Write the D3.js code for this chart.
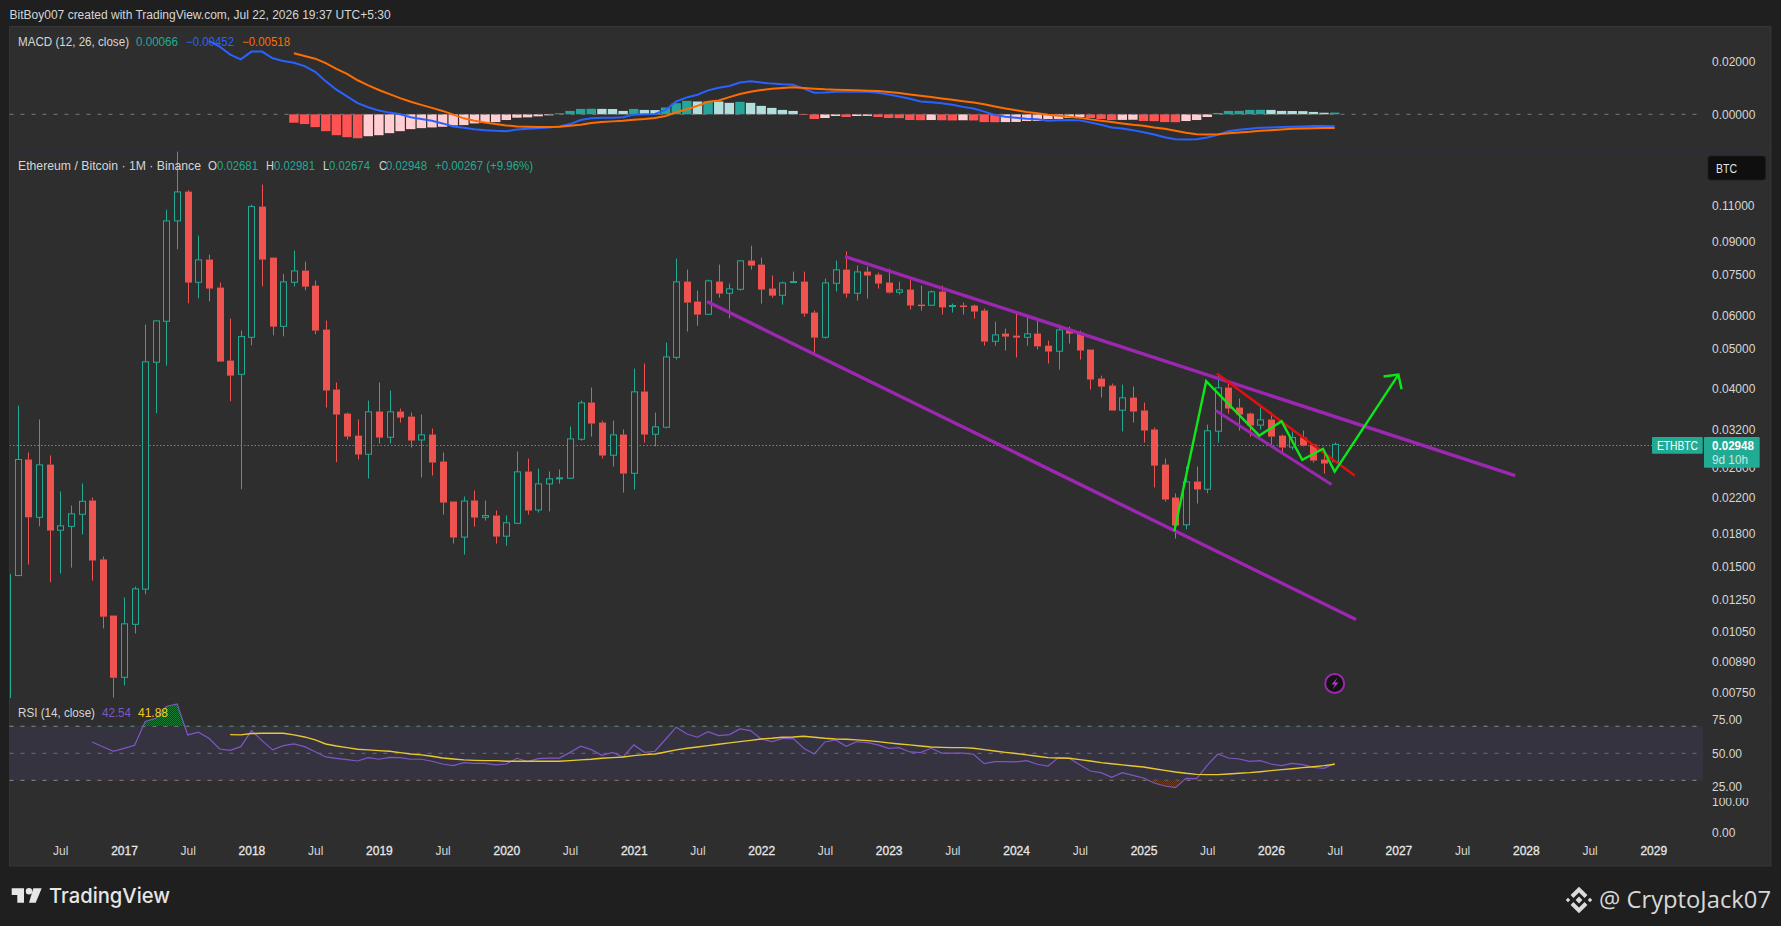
<html>
<head>
<style>
body
{
  margin:0;
  background:#1f1f1f;
}
svg
{
  display:block;
  font-family:"Liberation Sans", sans-serif;
}
</style>
<script src="https://cdnjs.cloudflare.com/ajax/libs/d3/7.8.5/d3.min.js"></script>
<script>
// months are counted from Jan 2017, the first bar sits 11 months before that
var firstMonth = -11;
var opens = [.00730,.01430,.02712,.01972,.02637,.01836,.01876,.02005,.02163,.01563,.01147,.00816,.01093,.01327,.04637,.05813,.10110,.11882,.07207,.08168,.06999,.04680,.04339,.05322,.10940,.08257,.05653,.07207,.07687,.07075,.05552,.03989,.03494,.03094,.02792,.03533,.03066,.03533,.03436,.03020,.03112,.02682,.02151,.01768,.02163,.01972,.01991,.01777,.01908,.02538,.02053,.02371,.02438,.02446,.03033,.03713,.03325,.02777,.03112,.02514,.03945,.03118,.03240,.04765,.07235,.06479,.06040,.07235,.06783,.06934,.08123,.07944,.06961,.06707,.07207,.07235,.06098,.05322,.07167,.07729,.06783,.07645,.07518,.07195,.06821,.06923,.06372,.06350,.06847,.06318,.06340,.06340,.06166,.05206,.05431,.05370,.05322,.05431,.05082,.04927,.05552,.05461,.04973,.04238,.04077,.03559,.03816,.03553,.03200,.02637,.02199,.01892,.02402,.02302,.03170,.04032,.03612,.03494,.03278,.03381,.03094,.02904,.03061,.02945,.02712,.02681];
var highs = [.01438,.03651,.02819,.03381,.02772,.02273,.02104,.02375,.02199,.01588,.01147,.01267,.01346,.05707,.05835,.10760,.14814,.11994,.09320,.08394,.07195,.05899,.05522,.11060,.12347,.08257,.07549,.08583,.08078,.07275,.05835,.04146,.03514,.03381,.03754,.04146,.03967,.03592,.03514,.03475,.03217,.02819,.02151,.02211,.02286,.02163,.02047,.01991,.02834,.02727,.02580,.02538,.02566,.03252,.03754,.04032,.03362,.03362,.03200,.04478,.04603,.03514,.05168,.08212,.07729,.06885,.07315,.07944,.07155,.08123,.08819,.08257,.07479,.07235,.07645,.07645,.06166,.07355,.08123,.08536,.07902,.07858,.07603,.07772,.07235,.07315,.07075,.06885,.07075,.06408,.06444,.06372,.06234,.05803,.05583,.06098,.06030,.05867,.05226,.05705,.05643,.05522,.04973,.04307,.04123,.04100,.04054,.03713,.03235,.02727,.02248,.02608,.02608,.03288,.04307,.04152,.03796,.03514,.03671,.03514,.03112,.03165,.03182,.02945,.02834,.02981];
var lows = [.00730,.01430,.01520,.01876,.01378,.01446,.01494,.01793,.01391,.01069,.00730,.00780,.01039,.01290,.03500,.04551,.08644,.06418,.06598,.06490,.04654,.03740,.02302,.05090,.07047,.05379,.05349,.07047,.06896,.05410,.03612,.02672,.03028,.02712,.02442,.02961,.02961,.03325,.02897,.02455,.02482,.02002,.01706,.01606,.01873,.01937,.01706,.01687,.01908,.02002,.02025,.02036,.02375,.02446,.03011,.03077,.02727,.02608,.02261,.02299,.02978,.02917,.03222,.04706,.05492,.05672,.06040,.06623,.05909,.06885,.07729,.06408,.06623,.06372,.07207,.05963,.04864,.05284,.06847,.06623,.06515,.06587,.06961,.06771,.06733,.06200,.06166,.06350,.06030,.06098,.06030,.05899,.05082,.05082,.04946,.04762,.05082,.04973,.04603,.04453,.05140,.04706,.03989,.03816,.03553,.03165,.03325,.02978,.02324,.02151,.01754,.01846,.02127,.02252,.02978,.03494,.03182,.03077,.03200,.02930,.02803,.02861,.02914,.02667,.02510,.02674];
var closes = [.01438,.02712,.01972,.02633,.01833,.01881,.02010,.02154,.01554,.01140,.00814,.01096,.01329,.04647,.05825,.10110,.11863,.07195,.08154,.06961,.04654,.04307,.05341,.10940,.08168,.05643,.07223,.07674,.07035,.05522,.03967,.03475,.03077,.02787,.03528,.03061,.03528,.03417,.03011,.03107,.02667,.02139,.01764,.02157,.01969,.01991,.01773,.01913,.02534,.02047,.02371,.02438,.02451,.03039,.03707,.03307,.02772,.03107,.02510,.03939,.03112,.03247,.04775,.07223,.06444,.06030,.07263,.06771,.06949,.08110,.07902,.06923,.06695,.07183,.07235,.06064,.05312,.07183,.07717,.06771,.07632,.07479,.07155,.06809,.06912,.06340,.06340,.06836,.06274,.06340,.06307,.06132,.05197,.05392,.05341,.05312,.05422,.05060,.04919,.05543,.05431,.04946,.04215,.04054,.03553,.03810,.03533,.03182,.02622,.02175,.01884,.02398,.02299,.03177,.04027,.03592,.03475,.03271,.03375,.03077,.02897,.03061,.02930,.02697,.02652,.02948];

var macdStart = 8;
var macdLine = [.02784,.02567,.02261,.02082,.02375,.02375,.02120,.02018,.01954,.01826,.01609,.01252,.00932,.00677,.00421,.00268,.00140,.00064,0,-.00115,-.00179,-.00243,-.00345,-.00460,-.00511,-.00562,-.00600,-.00626,-.00639,-.00575,-.00549,-.00524,-.00498,-.00460,-.00370,-.00217,-.00153,-.00128,-.00128,-.00115,-.00013,0,.00013,.00166,.00485,.00639,.00741,.00907,.01009,.01073,.01201,.01252,.01201,.01162,.01137,.01124,.00971,.00817,.00830,.00856,.00856,.00856,.00856,.00817,.00754,.00677,.00587,.00485,.00460,.00421,.00358,.00281,.00217,.00102,-.00026,-.00089,-.00128,-.00166,-.00192,-.00243,-.00230,-.00217,-.00230,-.00307,-.00396,-.00498,-.00536,-.00600,-.00677,-.00766,-.00868,-.00945,-.00958,-.00945,-.00881,-.00779,-.00639,-.00587,-.00549,-.00511,-.00498,-.00485,-.00473,-.00460,-.00447,-.00445,-.00452];
var signalStart = 16;
var signalLine = [.02312,.02209,.02107,.01941,.01724,.01533,.01290,.01098,.00920,.00766,.00613,.00473,.00358,.00243,.00128,-.00013,-.00153,-.00243,-.00307,-.00370,-.00421,-.00460,-.00473,-.00485,-.00485,-.00473,-.00434,-.00396,-.00332,-.00294,-.00268,-.00243,-.00204,-.00179,-.00140,-.00064,.00077,.00192,.00319,.00473,.00524,.00651,.00766,.00856,.00919,.00971,.00996,.01022,.00996,.00971,.00945,.00932,.00919,.00907,.00894,.00881,.00843,.00805,.00753,.00702,.00651,.00600,.00549,.00498,.00447,.00383,.00294,.00217,.00153,.00089,.00038,-.00013,-.00051,-.00089,-.00128,-.00192,-.00243,-.00294,-.00345,-.00396,-.00434,-.00498,-.00549,-.00626,-.00702,-.00753,-.00766,-.00753,-.00715,-.00690,-.00664,-.00626,-.00600,-.00575,-.00549,-.00536,-.00524,-.00520,-.00518];
var histStart = 16;
var histValues = [-.00319,-.00370,-.00485,-.00639,-.00792,-.00868,-.00907,-.00830,-.00792,-.00715,-.00639,-.00562,-.00524,-.00498,-.00473,-.00421,-.00409,-.00345,-.00319,-.00294,-.00217,-.00128,-.00115,-.00077,-.00038,.00038,.00128,.00204,.00210,.00205,.00200,.00128,.00204,.00166,.00160,.00255,.00421,.00511,.00485,.00498,.00485,.00434,.00473,.00434,.00319,.00243,.00166,.00128,-.00026,-.00179,-.00140,-.00064,-.00102,-.00064,-.00060,-.00102,-.00140,-.00145,-.00217,-.00222,-.00217,-.00225,-.00232,-.00225,-.00232,-.00295,-.00300,-.00295,-.00290,-.00255,-.00250,-.00179,-.00175,-.00140,-.00102,-.00140,-.00179,-.00217,-.00212,-.00207,-.00255,-.00260,-.00295,-.00300,-.00255,-.00217,-.00102,.00051,.00128,.00130,.00166,.00170,.00166,.00128,.00125,.00120,.00090,.00060,.00066];

var rsiStart = -3;
var rsiValues = [58.4,54.9,51.5,53.7,55.9,73.5,75.9,84.6,86.5,63.6,65.6,61.1,53.2,52.2,54.9,66.8,59.4,52.5,55.7,56.9,54.9,51.2,47.3,46.3,45.3,44.3,46.8,45.6,47.0,46.8,45.6,45.6,44.1,42.1,40.9,43.1,42.6,42.6,41.4,42.1,46.3,43.8,46.0,46.5,46.5,50.7,55.2,52.7,48.5,50.7,47.3,56.2,50.7,51.5,60.4,69.3,64.3,61.9,66.0,63.1,63.8,68.0,66.8,60.6,58.6,60.9,61.1,53.7,49.5,58.4,59.9,55.2,58.6,57.9,56.2,53.7,54.2,51.0,50.5,53.7,50.2,50.2,50.2,49.3,42.3,43.8,43.8,43.6,44.6,41.9,40.6,46.8,46.3,41.6,36.9,35.7,32.2,35.7,33.7,31.7,28.0,25.8,24.6,31.5,31.2,41.1,49.5,46.5,45.8,44.1,44.6,42.1,40.9,42.6,41.6,39.6,38.9,42.54];
var rsiMaStart = 10;
var rsiMaValues = [63.8,63.6,64.6,64.8,64.8,64.8,63.6,62.1,59.9,56.9,55.4,54.2,53.0,52.5,52.0,51.5,50.5,49.5,48.8,47.8,46.5,45.8,45.1,44.8,44.6,44.6,44.1,44.1,44.1,44.1,44.1,44.1,44.6,45.1,45.6,46.3,46.8,47.3,48.3,49.0,49.5,51.0,52.5,53.7,54.7,55.7,56.7,57.7,58.6,59.6,60.6,61.1,61.9,62.1,62.6,61.9,61.1,60.6,60.4,59.9,59.4,58.6,57.7,56.9,56.2,55.4,54.7,54.4,54.2,54.2,53.7,52.7,51.7,50.7,49.8,48.8,47.8,46.8,46.5,46.3,45.3,44.3,43.1,42.3,41.4,40.6,39.9,38.6,37.4,36.2,35.2,34.4,34.2,34.2,34.7,35.2,35.7,36.4,37.2,37.9,38.6,39.4,40.1,40.9,41.88];

var priceTicks = [.11,.09,.075,.06,.05,.04,.032,.026,.022,.018,.015,.0125,.0105,.0089,.0075];
var macdTicks = [.02,0];
var rsiTicks = [75,50,25];
var lowerTicks = [100,0];
var yearTicks = [0,12,24,36,48,60,72,84,96,108,120,132,144];
var julyTicks = [-6,6,18,30,42,54,66,78,90,102,114,126,138];

// drawn lines as [month, price]
var upperChannel = [[67.9,.08306],[131,.02483]];
var lowerChannel = [[54.9,.06479],[116,.01122]];
var flagLower = [[102.8,.03553],[113.7,.02362]];
var flagUpper = [[102.9,.04356],[115.9,.02480]];
var pathProjection = [[98.9,.01826],[101.9,.04176],[106.9,.03094],[109,.03349],[110.95,.02707],[112.9,.02877],[114,.02538],[120,.04331]];
var arrowHead = [[118.6,.04285],[120,.04331],[120.3,.03996]];

var W = 1781, H = 926;
var paneLeft = 9.5, paneRight = 1771, paneTop = 26.5, paneBottom = 866;
var macdBottom = 150.5, mainBottom = 698, rsiBottom = 798;
var axisLeft = 1712;
var upColor = "#22ab94", downColor = "#ef5350", paneColor = "#2e2e2e", textColor = "#d6d6d6";

document.addEventListener("DOMContentLoaded", function(){
  var svg = d3.select("body").append("svg").attr("width", W).attr("height", H);

  var x = d3.scaleLinear().domain([0,120]).range([124,1398.4]);
  var yPrice = d3.scaleLog().domain([.11,.0075]).range([205.6,692.6]);
  var yMacd = d3.scaleLinear().domain([0,.02]).range([114.3,61.5]);
  var yRsi = d3.scaleLinear().domain([50,75]).range([753.3,719.5]);
  var yLower = d3.scaleLinear().domain([0,100]).range([833,802]);

  svg.append("rect").attr("width",W).attr("height",H).attr("fill","#1f1f1f");
  svg.append("rect")
  .attr("x",paneLeft).attr("y",paneTop)
  .attr("width",paneRight-paneLeft).attr("height",paneBottom-paneTop)
  .attr("fill",paneColor).attr("stroke","#363636");

  var defs = svg.append("defs");
  function clip(id, x0, y0, x1, y1)
  {
    defs.append("clipPath").attr("id",id).append("rect")
    .attr("x",x0).attr("y",y0).attr("width",x1-x0).attr("height",y1-y0);
  }
  clip("mainClip", paneLeft+.5, macdBottom, paneRight, mainBottom);
  clip("mainAxisClip", axisLeft-10, macdBottom, paneRight, mainBottom);
  clip("lowerAxisClip", axisLeft-10, rsiBottom, paneRight, paneBottom);
  clip("over70", paneLeft, macdBottom, 1703, yRsi(70));
  clip("under30", paneLeft, yRsi(30), 1703, rsiBottom);

  // dotted fill of the RSI zones
  function dots(id, color)
  {
    var p = defs.append("pattern").attr("id",id).attr("width",2).attr("height",2).attr("patternUnits","userSpaceOnUse");
    p.append("rect").attr("width",2).attr("height",2).attr("fill",paneColor);
    p.append("rect").attr("width",1).attr("height",1).attr("fill",color);
    p.append("rect").attr("x",1).attr("y",1).attr("width",1).attr("height",1).attr("fill",color);
  }
  dots("greenDots","#1b7a34");
  dots("brownDots","#6e3f20");

  // pane separators
  [macdBottom, mainBottom, rsiBottom].forEach(function(y){
    svg.append("line").attr("x1",paneLeft).attr("x2",paneRight).attr("y1",y).attr("y2",y)
    .attr("stroke","#2c3038").attr("stroke-width",1);
  });

  // MACD pane
  var macdPane = svg.append("g");
  var histColor = function(v, i){
    var prev = i > 0 ? histValues[i-1] : 0;
    if(v >= 0) return v > prev ? "#26a69a" : "#b2dfdb";
    return v < prev ? "#ff5252" : "#ffcdd2";
  };
  macdPane.selectAll("rect").data(histValues).enter().append("rect")
  .attr("x", function(d,i){ return x(histStart+i)-4.7; })
  .attr("width", 9.4)
  .attr("y", function(d){ return Math.min(yMacd(d),yMacd(0)); })
  .attr("height", function(d){ return Math.abs(yMacd(d)-yMacd(0)); })
  .attr("fill", histColor);

  macdPane.append("line").attr("x1",paneLeft).attr("x2",1699).attr("y1",yMacd(0)).attr("y2",yMacd(0))
  .attr("stroke","#787878").attr("stroke-dasharray","4 7");

  var seriesLine = function(yScale, start){
    return d3.line().x(function(d,i){ return x(start+i); }).y(function(d){ return yScale(d); });
  };
  macdPane.append("path").attr("d",seriesLine(yMacd,macdStart)(macdLine))
  .attr("fill","none").attr("stroke","#2962ff").attr("stroke-width",2);
  macdPane.append("path").attr("d",seriesLine(yMacd,signalStart)(signalLine))
  .attr("fill","none").attr("stroke","#ff6d00").attr("stroke-width",2);

  // candles
  var main = svg.append("g").attr("clip-path","url(#mainClip)");
  var bars = opens.map(function(o,i){
    return {m:firstMonth+i, o:o, h:highs[i], l:lows[i], c:closes[i], up:closes[i]>=o};
  });
  var lastY = Math.ceil(yPrice(closes[closes.length-1]))+.5;
  main.append("line").attr("x1",paneLeft).attr("x2",1652).attr("y1",lastY).attr("y2",lastY)
  .attr("stroke",downColor).attr("stroke-dasharray","1.5 2");

  bars.forEach(function(b){
    var cx = Math.round(x(b.m))+.5;
    var color = b.up ? upColor : downColor;
    var top = yPrice(Math.max(b.o,b.c)), bot = yPrice(Math.min(b.o,b.c));
    main.append("line").attr("x1",cx).attr("x2",cx).attr("y1",yPrice(b.h)).attr("y2",top).attr("stroke",color);
    main.append("line").attr("x1",cx).attr("x2",cx).attr("y1",bot).attr("y2",yPrice(b.l)).attr("stroke",color);
    if(b.up)
    {
      main.append("rect").attr("x",cx-3).attr("width",6).attr("y",top).attr("height",Math.max(bot-top,1))
      .attr("fill",paneColor).attr("stroke",color);
    }
    else
    {
      main.append("rect").attr("x",cx-3.5).attr("width",7).attr("y",top).attr("height",Math.max(bot-top,1.5))
      .attr("fill",color);
    }
  });

  // hand drawn lines
  var drawn = d3.line().x(function(d){ return x(d[0]); }).y(function(d){ return yPrice(d[1]); });
  function drawing(points, color, width)
  {
    main.append("path").attr("d",drawn(points)).attr("fill","none")
    .attr("stroke",color).attr("stroke-width",width).attr("stroke-linejoin","miter");
  }
  drawing(upperChannel,"#9c27b0",3.4);
  drawing(lowerChannel,"#9c27b0",3.4);
  drawing(flagLower,"#9c27b0",3);
  drawing(flagUpper,"#e01010",2.5);
  drawing(pathProjection,"#0ee61a",2.4);
  drawing(arrowHead,"#0ee61a",2.4);

  // notification badge
  svg.append("circle").attr("cx",x(114)).attr("cy",683.5).attr("r",9.5)
  .attr("fill","#131313").attr("stroke","#9c27b0").attr("stroke-width",2);
  svg.append("path").attr("d","M1337.5 677.5 L1331.5 684.5 L1335 684.5 L1332.5 689.5 L1338.5 682.5 L1335 682.5 Z").attr("fill","#b23cc8");

  // RSI pane
  var rsiPane = svg.append("g");
  rsiPane.append("rect").attr("x",paneLeft+.5).attr("width",1703-paneLeft-.5)
  .attr("y",yRsi(70)).attr("height",yRsi(30)-yRsi(70)).attr("fill","#363340");
  [70,50,30].forEach(function(v){
    rsiPane.append("line").attr("x1",paneLeft).attr("x2",1700).attr("y1",yRsi(v)).attr("y2",yRsi(v))
    .attr("stroke",v==50?"#6e6c76":"#8a8a92").attr("stroke-dasharray","4 7");
  });
  var rsiArea = d3.area()
  .x(function(d,i){ return x(rsiStart+i); })
  .y0(function(d){ return yRsi(d); });
  rsiPane.append("path").attr("clip-path","url(#over70)")
  .attr("d",rsiArea.y1(yRsi(70))(rsiValues)).attr("fill","url(#greenDots)");
  rsiPane.append("path").attr("clip-path","url(#under30)")
  .attr("d",rsiArea.y1(yRsi(30))(rsiValues)).attr("fill","url(#brownDots)");
  rsiPane.append("path").attr("d",seriesLine(yRsi,rsiStart)(rsiValues))
  .attr("fill","none").attr("stroke","#7e57c2").attr("stroke-width",1.2);
  rsiPane.append("path").attr("d",seriesLine(yRsi,rsiMaStart)(rsiMaValues))
  .attr("fill","none").attr("stroke","#e8c82e").attr("stroke-width",1.4);

  // axes
  var fmt5 = d3.format(".5f"), fmt2 = d3.format(".2f");
  function priceAxis(scale, ticks, format, clipId)
  {
    var outer = svg.append("g");
    if(clipId) outer.attr("clip-path","url(#"+clipId+")");
    var g = outer.append("g").attr("transform","translate("+(axisLeft-9)+",0)")
    .call(d3.axisRight(scale).tickValues(ticks).tickFormat(format).tickSize(0).tickPadding(9));
    g.select(".domain").remove();
    g.selectAll("text").attr("fill",textColor).attr("font-size","12px");
  }
  priceAxis(yMacd, macdTicks, fmt5);
  priceAxis(yPrice, priceTicks, fmt5, "mainAxisClip");
  priceAxis(yRsi, rsiTicks, fmt2);
  priceAxis(yLower, lowerTicks, fmt2, "lowerAxisClip");

  function timeAxis(ticks, format, color)
  {
    var g = svg.append("g").attr("transform","translate(0,843)")
    .call(d3.axisBottom(x).tickValues(ticks).tickFormat(format).tickSize(0).tickPadding(3));
    g.select(".domain").remove();
    g.selectAll("text").attr("fill",color).attr("font-size","12px");
    return g;
  }
  timeAxis(yearTicks, function(m){ return String(2017+m/12); }, "#e6e6e6")
  .selectAll("text").attr("stroke","#e6e6e6").attr("stroke-width",.3);
  timeAxis(julyTicks, function(){ return "Jul"; }, textColor);

  // text with a fixed width, the chart font is narrower than what's installed
  function label(px, py, str, color, width, size, weight)
  {
    var t = svg.append("text").attr("x",px).attr("y",py).attr("dy","0.35em").text(str)
    .attr("fill",color).attr("font-size",(size||12)+"px");
    if(width) t.attr("textLength",width).attr("lengthAdjust","spacingAndGlyphs");
    if(weight) t.attr("font-weight",weight);
    return t;
  }
  label(9.6,15,"BitBoy007 created with TradingView.com, Jul 22, 2026 19:37 UTC+5:30",textColor,381);

  label(18,41.7,"MACD (12, 26, close)",textColor,111);
  label(136,41.7,"0.00066",upColor,42);
  label(186,41.7,"\u22120.00452","#2962ff",48);
  label(242,41.7,"\u22120.00518","#ff6d00",48);

  label(18,166,"Ethereum / Bitcoin \u00b7 1M \u00b7 Binance",textColor,183);
  label(208,166,"O",textColor,9);
  label(217,166,"0.02681",upColor,41);
  label(266,166,"H",textColor,8);
  label(274,166,"0.02981",upColor,41);
  label(323,166,"L",textColor,6);
  label(329,166,"0.02674",upColor,41);
  label(379,166,"C",textColor,8);
  label(386,166,"0.02948",upColor,41);
  label(435,166,"+0.00267 (+9.96%)",upColor,98);

  label(18,712.7,"RSI (14, close)",textColor,77);
  label(102,712.7,"42.54","#7e57c2",29);
  label(138,712.7,"41.88","#f2ca1e",30);

  // price labels on the axis
  svg.append("rect").attr("x",1652).attr("y",437).attr("width",50.7).attr("height",16.7).attr("fill",upColor).attr("rx",1);
  svg.append("rect").attr("x",1704).attr("y",437).attr("width",55.7).attr("height",30.7).attr("fill",upColor).attr("rx",1);
  label(1657,445.5,"ETHBTC","#ffffff",41);
  label(1712,445.5,"0.02948","#ffffff",42,12,"bold");
  label(1712,460,"9d 10h","#c6e9e4",36);

  svg.append("rect").attr("x",1707.7).attr("y",155.7).attr("width",58.3).attr("height",24.6).attr("rx",3)
  .attr("fill","#0f0f0f").attr("stroke","#2a2a2a");
  label(1716,168.7,"BTC","#e4e4e4",21);

  // footer
  svg.append("path").attr("d","M11.7 888.3 H24 V902.7 H17.3 V895 H11.7 Z").attr("fill","#e6e6e6");
  svg.append("circle").attr("cx",29).attr("cy",891.3).attr("r",3.2).attr("fill","#e6e6e6");
  svg.append("path").attr("d","M33.3 888.3 H41.7 L35.7 902.7 H29 Z").attr("fill","#e6e6e6");
  label(49,896,"TradingView","#e6e6e6",121,20.5,"500").attr("font-family","Inter");

  var bin = svg.append("g").attr("transform","translate(1579,900)");
  [[0,0,3.4],[-11,0,2.2],[11,0,2.2]].forEach(function(d){
    bin.append("path").attr("fill","#dcdcdc")
    .attr("d","M"+d[0]+" "+(d[1]-d[2])+" L"+(d[0]+d[2])+" "+d[1]+" L"+d[0]+" "+(d[1]+d[2])+" L"+(d[0]-d[2])+" "+d[1]+" Z");
  });
  ["M-7 -3.5 L0 -10.5 L7 -3.5","M-7 3.5 L0 10.5 L7 3.5"].forEach(function(d){
    bin.append("path").attr("d",d).attr("fill","none").attr("stroke","#dcdcdc").attr("stroke-width",4);
  });
  label(1599,900,"@ CryptoJack07","#d8d8d8",172,24).attr("font-family","Open Sans");
});
</script>
</head>
<body>

</body>
</html>
